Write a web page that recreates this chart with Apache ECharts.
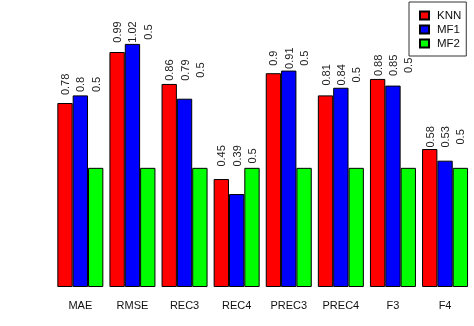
<!DOCTYPE html>
<html>
<head>
<meta charset="utf-8">
<script src="https://cdn.jsdelivr.net/npm/echarts@6/dist/echarts.min.js"></script>
<style>
html,body{margin:0;padding:0;background:#fff;}
#c{width:474px;height:326px;}
</style>
</head>
<body>
<div id="c"></div>
<script>
// Data
const categories = ['MAE','RMSE','REC3','REC4','PREC3','PREC4','F3','F4'];
const seriesNames = ['KNN','MF1','MF2'];
// bar heights
const knnValues = [0.772, 0.986, 0.852, 0.453, 0.897, 0.804, 0.873, 0.579];
const mf1Values = [0.804, 1.02, 0.790, 0.390, 0.908, 0.836, 0.845, 0.530];
const mf2Values = [0.5, 0.5, 0.5, 0.5, 0.5, 0.5, 0.5, 0.5];
// value labels printed above each group
const knnLabels = ['0.78','0.99','0.86','0.45','0.9','0.81','0.88','0.58'];
const mf1Labels = ['0.8','1.02','0.79','0.39','0.91','0.84','0.85','0.53'];
const mf2Labels = ['0.5','0.5','0.5','0.5','0.5','0.5','0.5','0.5'];

const colors = ['#ff0000','#0000ff','#00ff00'];
const catGap = 0.117;
const FONT = '"Liberation Sans", Arial, sans-serif';

const labelArrays = [knnLabels, mf1Labels, mf2Labels];
const labelData = categories.map((c, i) => [i, Math.max(
  parseFloat(knnLabels[i]), parseFloat(mf1Labels[i]), parseFloat(mf2Labels[i])) + 0.05]);

const chart = echarts.init(document.getElementById('c'), null, {renderer: 'canvas'});
const valueSets = [knnValues, mf1Values, mf2Values];

const series = seriesNames.map((n, k) => ({
  name: n,
  type: 'bar',
  data: valueSets[k],
  barGap: '0%',
  barCategoryGap: (catGap * 100) + '%',
  itemStyle: {color: colors[k], borderColor: '#000', borderWidth: 1},
  emphasis: {disabled: true},
  animation: false
}));

series.push({
  type: 'custom',
  data: labelData,
  silent: true,
  animation: false,
  clip: false,
  renderItem: function (params, api) {
    const idx = params.dataIndex;
    const p = api.coord([api.value(0), api.value(1)]);
    const bandW = api.size([1, 0])[0];
    const barW = bandW * (1 - catGap) / 3;
    const children = [];
    for (let j = 0; j < 3; j++) {
      children.push({
        type: 'text',
        x: p[0] + (j - 1) * barW + 1,
        y: p[1],
        rotation: Math.PI / 2,
        style: {
          text: labelArrays[j][idx],
          x: 0, y: 0,
          align: 'center',
          verticalAlign: 'middle',
          fontSize: 11,
          fontFamily: FONT,
          fill: '#222'
        }
      });
    }
    return {type: 'group', children: children};
  }
});

chart.setOption({
  animation: false,
  backgroundColor: '#fff',
  grid: {left: 54.3, right: 2.9, top: 1, bottom: 39},
  legend: {
    data: seriesNames,
    orient: 'vertical',
    left: 409,
    top: 2,
    padding: [7, 5, 6, 10],
    itemWidth: 9,
    itemHeight: 8,
    itemGap: 1,
    icon: 'rect',
    borderColor: '#333',
    borderWidth: 1,
    textStyle: {fontSize: 11.5, fontFamily: FONT, color: '#111', padding: [0, 0, 0, 3], lineHeight: 13}
  },
  xAxis: {
    type: 'category',
    data: categories,
    axisLine: {show: false},
    axisTick: {show: false},
    axisLabel: {fontSize: 11, fontFamily: FONT, color: '#111', margin: 13}
  },
  yAxis: {
    type: 'value',
    min: 0,
    max: 1.2,
    show: false,
    splitLine: {show: false}
  },
  series: series
});
</script>
</body>
</html>
